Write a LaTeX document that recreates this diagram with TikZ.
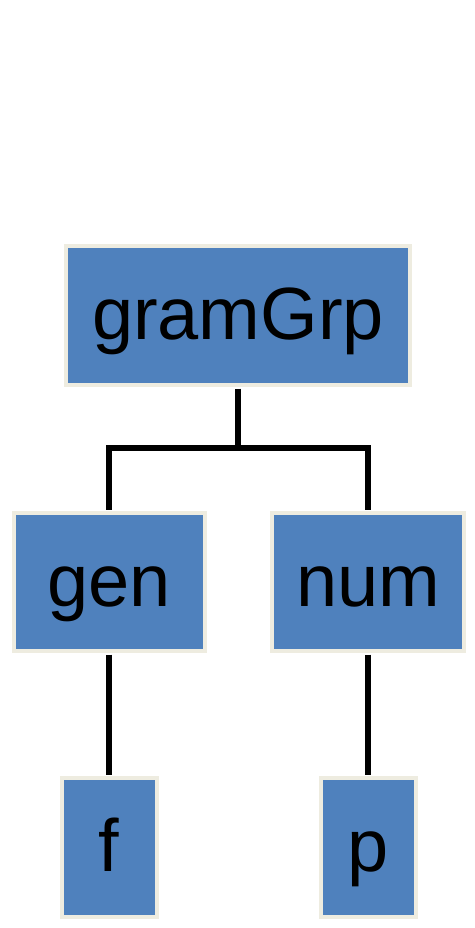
\documentclass[tikz,border=0pt]{standalone}
\usepackage{fontspec}
\setmainfont{Liberation Sans}
\definecolor{boxblue}{RGB}{79,129,189}
\definecolor{boxrim}{RGB}{238,236,224}
\begin{document}
\begin{tikzpicture}[x=1pt,y=-1pt,
  tbox/.style={rectangle, fill=boxblue, draw=boxrim, line width=4pt, inner sep=0pt,
    text height=54pt, text depth=6pt,
    font=\fontsize{74}{80}\selectfont, text=black},
  link/.style={line width=6pt, draw=black, shorten <=1.5pt, shorten >=1.5pt}]
\useasboundingbox (0,0) rectangle (474,928);
\node[tbox, minimum width=344pt, minimum height=139pt] (gg) at (238,315.5) {gramGrp};
\node[tbox, minimum width=191pt, minimum height=138pt] (gen) at (109,582) {gen};
\node[tbox, minimum width=192pt, minimum height=138pt] (num) at (368,582) {num};
\node[tbox, minimum width=95pt, minimum height=139pt] (f) at (109,847.5) {f};
\node[tbox, minimum width=95pt, minimum height=139pt] (p) at (368,847.5) {p};
\coordinate (bus) at (238,448);
\draw[link, shorten >=0pt] (gg.south) -- (bus);
\draw[link, line join=miter] (gen.north) |- (bus) -| (num.north);
\draw[link] (gen.south) -- (f.north);
\draw[link] (num.south) -- (p.north);
\end{tikzpicture}
\end{document}
